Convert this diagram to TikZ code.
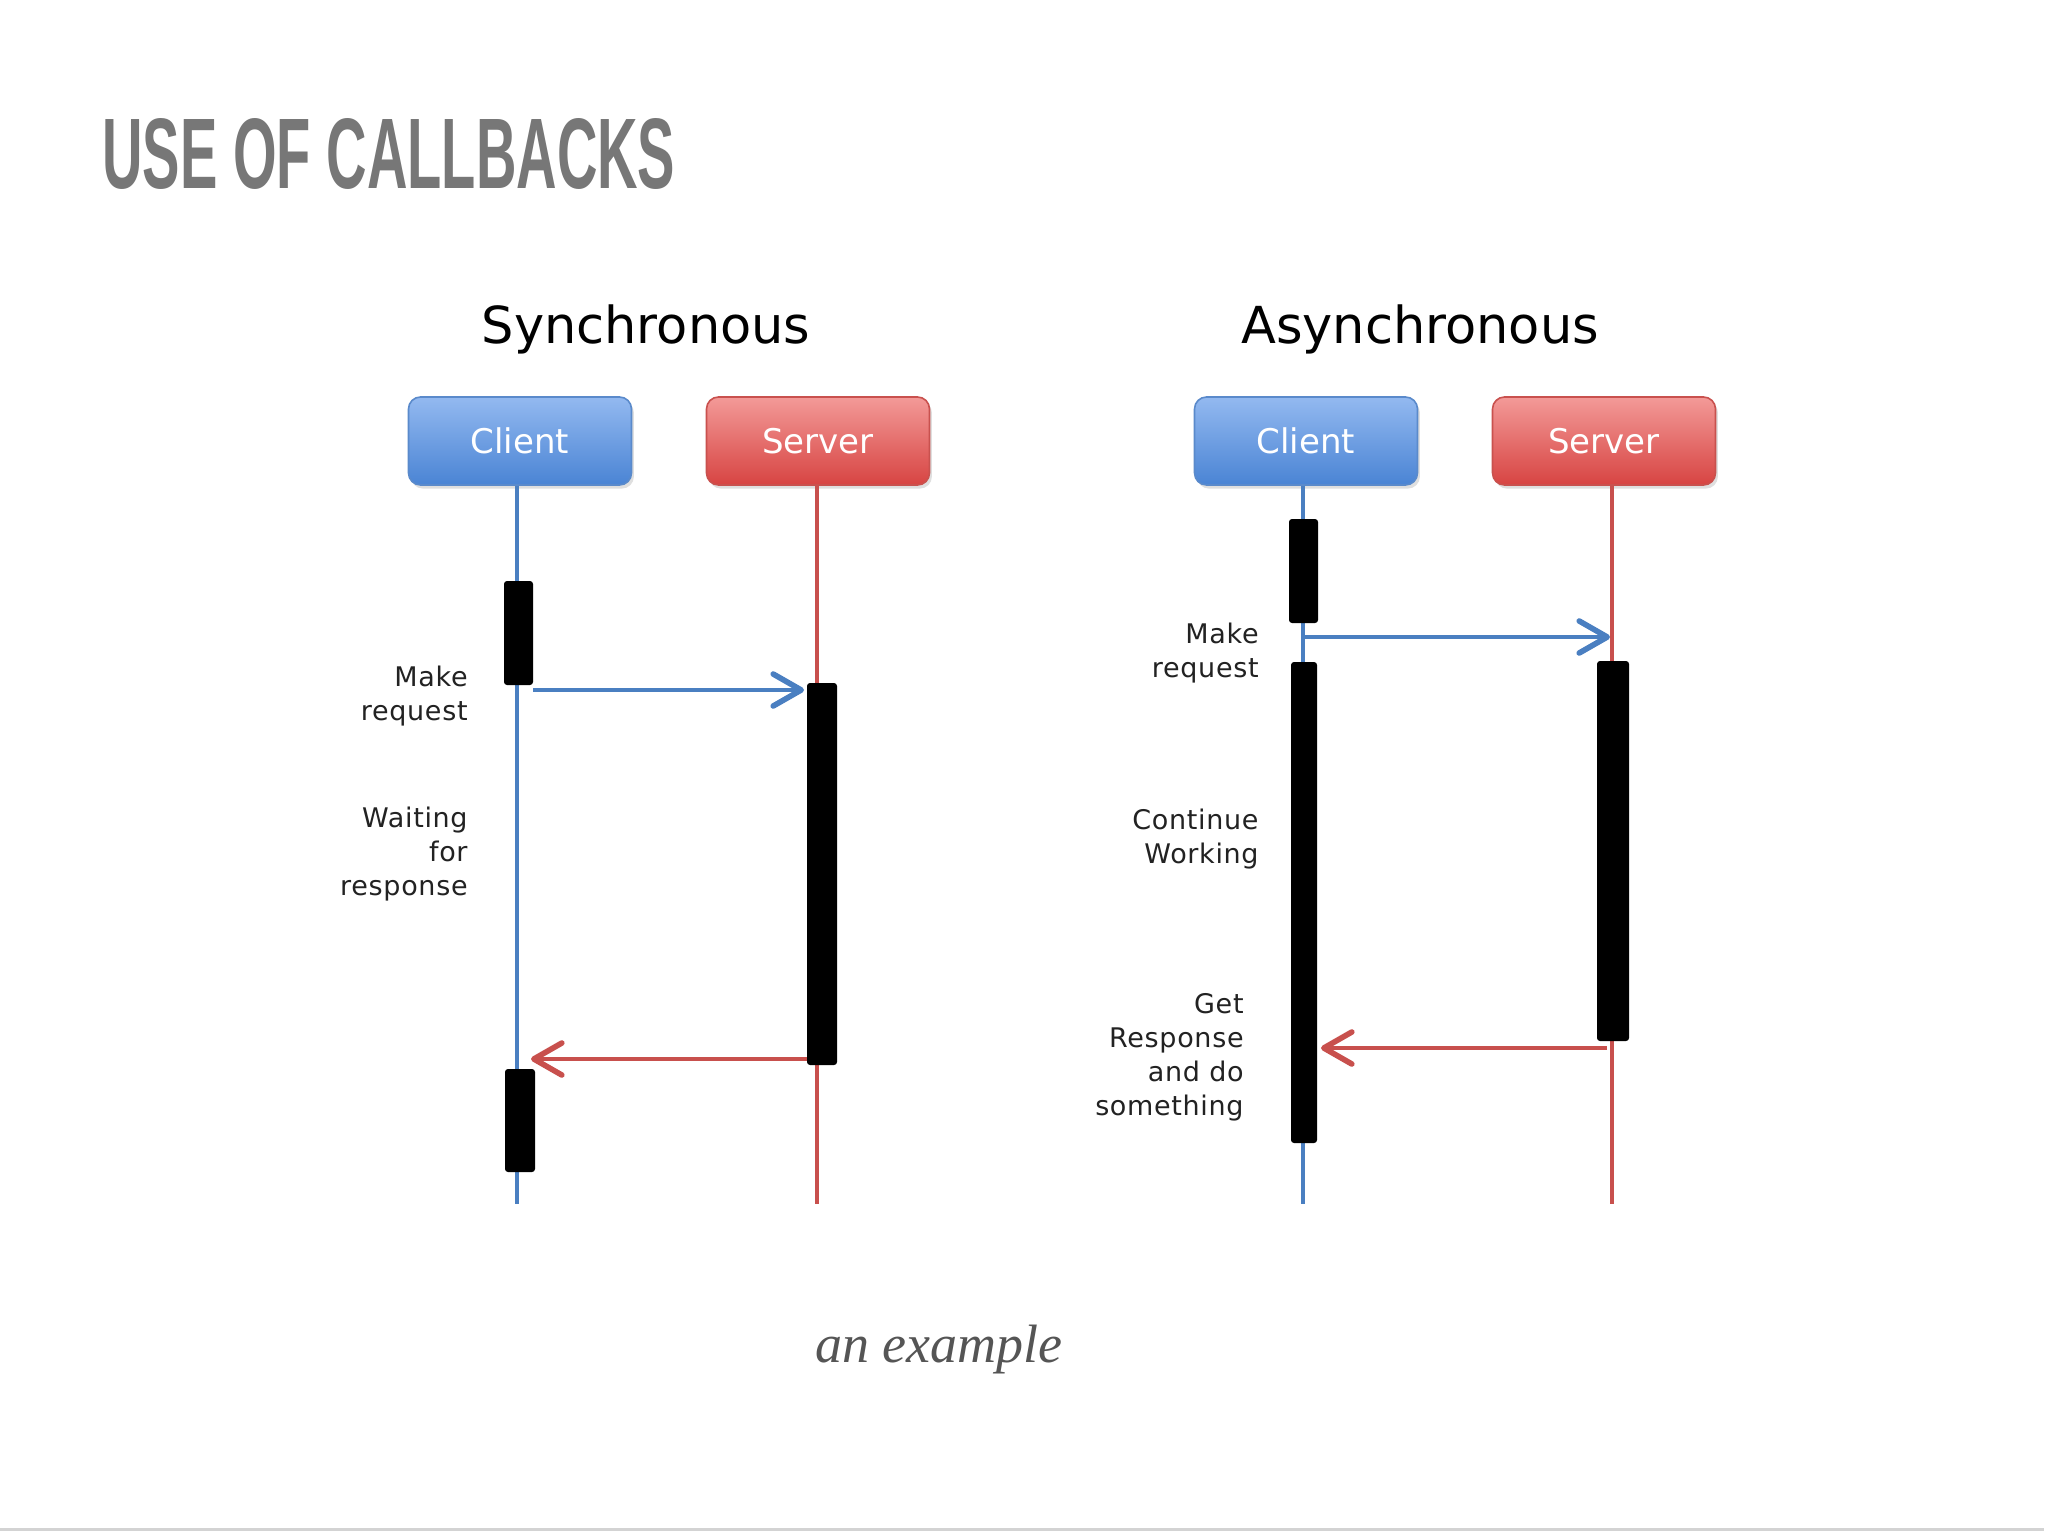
\documentclass[tikz,border=0pt]{standalone}
\usepackage{fontspec}
\setmainfont{DejaVu Sans}
\newfontfamily\titlefont{Liberation Sans}
\newfontfamily\capfont{Liberation Serif}
\newfontfamily\lblfont[LetterSpace=2.5]{DejaVu Sans}
\usetikzlibrary{arrows.meta,shadows}
\definecolor{titlegray}{HTML}{777777}
\definecolor{capgray}{HTML}{555555}
\definecolor{rulegray}{HTML}{D3D3D3}
\definecolor{labelc}{HTML}{222222}
\definecolor{blueline}{HTML}{4A7FC1}
\definecolor{redline}{HTML}{C8504D}
\definecolor{ctop}{HTML}{93B9F0}
\definecolor{cbot}{HTML}{4A84D4}
\definecolor{cborder}{HTML}{5A8ACB}
\definecolor{stop}{HTML}{F39A98}
\definecolor{sbot}{HTML}{D74442}
\definecolor{sborder}{HTML}{C9514E}
\tikzset{
  heading/.style={anchor=base, inner sep=0, text=black, font=\fontsize{25.5pt}{30pt}\selectfont},
  box/.style={rounded corners=6pt, minimum width=111.5pt, minimum height=44pt, text=white,
    font=\fontsize{17pt}{20pt}\selectfont, line width=0.8pt,
    drop shadow={opacity=0.25, shadow xshift=1.2pt, shadow yshift=-1.8pt}},
  clientbox/.style={box, top color=ctop, bottom color=cbot, draw=cborder},
  serverbox/.style={box, top color=stop, bottom color=sbot, draw=sborder},
  bline/.style={draw=blueline, line width=2.4pt},
  rline/.style={draw=redline, line width=2.4pt},
  act/.style={fill=black, rounded corners=1.5pt, inner sep=0, outer sep=0},
  reqarrow/.style={draw=blueline, line width=2.2pt, -{Straight Barb[length=14pt,width=16pt,round,line width=2.8pt]}},
  resarrow/.style={draw=redline, line width=2.2pt, -{Straight Barb[length=14pt,width=16pt,round,line width=2.8pt]}},
  lbl/.style={anchor=north east, align=right, inner sep=0, text=labelc, font=\lblfont\fontsize{13.5pt}{17pt}\selectfont},
}
\begin{document}
\begin{tikzpicture}[x=0.5pt, y=-0.5pt]
\useasboundingbox (0,0) rectangle (2048,1536);
\fill[white] (0,0) rectangle (2048,1536);

% title
\node[anchor=south west, inner sep=0, text=titlegray] (title) at (102,190)
  {\resizebox{286.5pt}{35pt}{\titlefont\bfseries USE OF CALLBACKS}};

% headings
\node[heading] (synch) at (646,343) {Synchronous};
\node[heading] (asynch) at (1420,343) {Asynchronous};

% boxes
\node[clientbox] (sc) at (520,441) {Client};
\node[serverbox] (ss) at (818,441) {Server};
\node[clientbox] (ac) at (1306,441) {Client};
\node[serverbox] (as) at (1604,441) {Server};

% lifeline ends
\coordinate (sce) at (517,1204);
\coordinate (sse) at (817,1204);
\coordinate (ace) at (1303,1204);
\coordinate (ase) at (1612,1204);

\draw[bline] (sce |- sc.south) -- (sce);
\draw[rline] (sse |- ss.south) -- (sse);
\draw[bline] (ace |- ac.south) -- (ace);
\draw[rline] (ase |- as.south) -- (ase);

% activation blocks (synchronous)
\node[act, minimum width=14.5pt, minimum height=52pt] (sa1) at (518.5,633) {};
\node[act, minimum width=15pt, minimum height=191pt] (ss1) at (822,874) {};
\node[act, minimum width=15pt, minimum height=51.5pt] (sa2) at (520,1120.5) {};

% activation blocks (asynchronous)
\node[act, minimum width=14.5pt, minimum height=52pt] (aa1) at (1303.5,571) {};
\node[act, minimum width=13pt, minimum height=240.5pt] (aa2) at (1304,902.5) {};
\node[act, minimum width=16pt, minimum height=190pt] (as1) at (1613,851) {};

% arrows
\draw[reqarrow] ([yshift=-2.5pt]sa1.south east) -- ([xshift=-1.5pt,yshift=-3.5pt]ss1.north west);
\draw[resarrow] ([yshift=3pt]ss1.south west) -- ([xshift=-2pt,yshift=5pt]sa2.north east);
\draw[reqarrow] ([yshift=-7pt]aa1.south) -- ([xshift=-1.5pt,yshift=12pt]as1.north);
\draw[resarrow] ([xshift=-3pt,yshift=-3.5pt]as1.south) -- ([xshift=2pt,yshift=-72.75pt]aa2.east);

% labels
\node[lbl] (l1) at (468,662) {\strut Make\\request};
\node[lbl] (l2) at (468,803) {\strut Waiting\\for\\response};
\node[lbl] (l3) at (1259,619) {\strut Make\\request};
\node[lbl] (l4) at (1259,805) {\strut Continue\\Working};
\node[lbl] (l5) at (1244,989) {\strut Get\\Response\\and do\\something};

% caption
\node[anchor=base, inner sep=0, text=capgray, font=\capfont\itshape\fontsize{27pt}{30pt}\selectfont] (cap) at (939,1362) {an example};

% bottom rule
\draw[rulegray, line width=1.5pt] (0,1529) -- (2044,1529);
\end{tikzpicture}
\end{document}
